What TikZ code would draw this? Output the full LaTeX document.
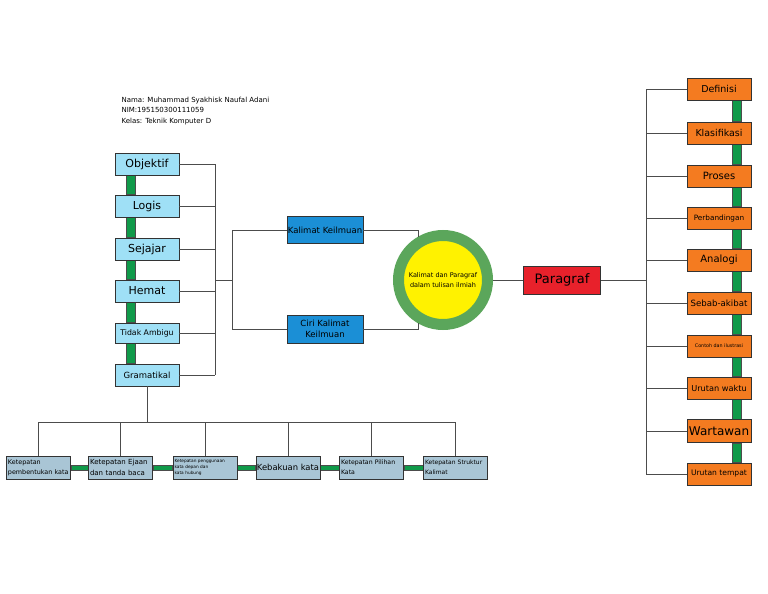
\documentclass[tikz,border=0pt]{standalone}
\usepackage{fontspec}
\setmainfont{DejaVu Sans}
\usetikzlibrary{shapes.geometric, positioning, calc, backgrounds}

\definecolor{skyfill}{RGB}{159,224,246}
\definecolor{bluefill}{RGB}{27,143,214}
\definecolor{slatefill}{RGB}{169,197,213}
\definecolor{orangefill}{RGB}{244,123,32}
\definecolor{redfill}{RGB}{232,33,43}
\definecolor{bargreen}{RGB}{16,154,74}
\definecolor{ringgreen}{RGB}{91,166,91}
\definecolor{sunfill}{RGB}{255,242,0}

\begin{document}
\begin{tikzpicture}[x=1pt, y=-1pt,
	box/.style={draw=black!80, line width=0.7pt, inner sep=1pt, minimum width=64pt, minimum height=22pt},
	leftbox/.style={box, fill=skyfill},
	midbox/.style={box, fill=bluefill, minimum width=76pt, minimum height=27pt},
	rightbox/.style={box, fill=orangefill},
	botbox/.style={box, fill=slatefill, text width=61pt, align=left, minimum height=23pt},
	link/.style={draw=black!70, line width=0.7pt},
	bar/.style={draw=black!70, line width=0.5pt, fill=bargreen}
	]
	\useasboundingbox (0,0) rectangle (768,594);

	\node[anchor=west, align=left, font=\fontsize{7}{10.5}\selectfont] (author) at (118,111)
		{Nama: Muhammad Syakhisk Naufal Adani\\NIM:195150300111059\\Kelas: Teknik Komputer D};

	\node[leftbox, font=\fontsize{11}{13}\selectfont] (obj) at (147,164) {Objektif};
	\node[leftbox, font=\fontsize{11}{13}\selectfont] (logis) at (147,206) {Logis};
	\node[leftbox, font=\fontsize{11}{13}\selectfont] (sejajar) at (147,249) {Sejajar};
	\node[leftbox, font=\fontsize{11}{13}\selectfont] (hemat) at (147,291) {Hemat};
	\node[leftbox, minimum height=20pt, font=\fontsize{7.8}{9}\selectfont] (ambigu) at (147,333) {Tidak Ambigu};
	\node[leftbox, font=\fontsize{8.5}{10}\selectfont] (gram) at (147,375) {Gramatikal};

	\node[midbox, font=\fontsize{8.5}{10}\selectfont] (ki) at (325,230) {Kalimat Keilmuan};
	\node[midbox, minimum height=28pt, align=center, font=\fontsize{8.5}{11}\selectfont] (ciri) at (325,329) {Ciri Kalimat\\Keilmuan};

	\node[circle, fill=sunfill, draw=ringgreen, line width=11pt, minimum size=89pt, inner sep=0pt, align=center,
		font=\fontsize{6.5}{10}\selectfont] (kp) at (443,280) {Kalimat dan Paragraf\\dalam tulisan ilmiah};

	\node[box, fill=redfill, minimum width=77pt, minimum height=28pt, font=\fontsize{13}{15}\selectfont] (par) at (562,280) {Paragraf};

	\node[rightbox, font=\fontsize{9.5}{11}\selectfont] (def) at (719,89) {Definisi};
	\node[rightbox, font=\fontsize{9.5}{11}\selectfont] (klas) at (719,133) {Klasifikasi};
	\node[rightbox, font=\fontsize{10}{12}\selectfont] (proses) at (719,176) {Proses};
	\node[rightbox, font=\fontsize{7.3}{9}\selectfont] (banding) at (719,218) {Perbandingan};
	\node[rightbox, font=\fontsize{10}{12}\selectfont] (analogi) at (719,260) {Analogi};
	\node[rightbox, font=\fontsize{8.6}{10}\selectfont] (sebab) at (719,303) {Sebab-akibat};
	\node[rightbox, font=\fontsize{4.8}{6}\selectfont] (contoh) at (719,346) {Contoh dan ilustrasi};
	\node[rightbox, font=\fontsize{8.2}{10}\selectfont] (uwaktu) at (719,388) {Urutan waktu};
	\node[rightbox, minimum height=23pt, font=\fontsize{12}{14}\selectfont] (wartawan) at (719,431) {Wartawan};
	\node[rightbox, font=\fontsize{7.6}{9}\selectfont] (utempat) at (719,474) {Urutan tempat};

	\node[botbox, font=\fontsize{6.4}{10}\selectfont] (kpk) at (38.5,467.5) {Ketepatan\\pembentukan kata};
	\node[botbox, font=\fontsize{7}{10.5}\selectfont] (kej) at (120.5,467.5) {Ketepatan Ejaan\\dan tanda baca};
	\node[botbox, font=\fontsize{4.3}{6}\selectfont] (kpg) at (205,467.5) {Ketepatan penggunaan\\kata depan dan\\kata hubung};
	\node[box, fill=slatefill, minimum width=62pt, minimum height=23pt, font=\fontsize{8.4}{10}\selectfont] (kbk) at (288,467.5) {Kebakuan kata};
	\node[botbox, font=\fontsize{6.2}{10}\selectfont] (kpl) at (371.5,467.5) {Ketepatan Pilihan\\Kata};
	\node[botbox, font=\fontsize{6}{10}\selectfont] (kss) at (455.5,467.5) {Ketepatan Struktur\\Kalimat};

	\coordinate (lbus) at (215,280);
	\coordinate (lsplit) at (232,280);
	\coordinate (rbus) at (646,280);
	\coordinate (bbus) at (147,422);

	\foreach \n in {obj, logis, sejajar, hemat, ambigu, gram}
		\draw[link] (\n.east) -- (\n.east -| lbus);
	\draw[link] (obj.east -| lbus) -- (gram.east -| lbus);
	\draw[link] (lbus) -- (lsplit);
	\draw[link] (ki.west) -| (lsplit);
	\draw[link] (ciri.west) -| (lsplit);
	\draw[link] (ki.east) -| (kp.120);
	\draw[link] (ciri.east) -| (kp.240);
	\draw[link] (kp.east) -- (par.west);

	\draw[link] (par.east) -- (rbus);
	\draw[link] (def.west -| rbus) -- (utempat.west -| rbus);
	\foreach \n in {def, klas, proses, banding, analogi, sebab, contoh, uwaktu, wartawan, utempat}
		\draw[link] (\n.west -| rbus) -- (\n.west);

	\draw[link] (gram.south) -- (bbus);
	\draw[link] (kpk.north |- bbus) -- (kss.north |- bbus);
	\foreach \n in {kpk, kej, kpg, kbk, kpl, kss}
		\draw[link] (\n.north |- bbus) -- (\n.north);

	\begin{pgfonlayer}{background}
		\foreach \a/\b in {obj/logis, logis/sejajar, sejajar/hemat, hemat/ambigu, ambigu/gram}
			\draw[bar] ($(\a.south)+(-21,0)$) rectangle ($(\b.north)+(-12,0)$);
		\foreach \a/\b in {def/klas, klas/proses, proses/banding, banding/analogi, analogi/sebab,
				sebab/contoh, contoh/uwaktu, uwaktu/wartawan, wartawan/utempat}
			\draw[bar] ($(\a.south)+(13,0)$) rectangle ($(\b.north)+(22,0)$);
		\foreach \a/\b in {kpk/kej, kej/kpg, kpg/kbk, kbk/kpl, kpl/kss}
			\draw[bar] ($(\a.east)+(0,-2.5)$) rectangle ($(\b.west)+(0,2.5)$);
	\end{pgfonlayer}
\end{tikzpicture}
\end{document}
